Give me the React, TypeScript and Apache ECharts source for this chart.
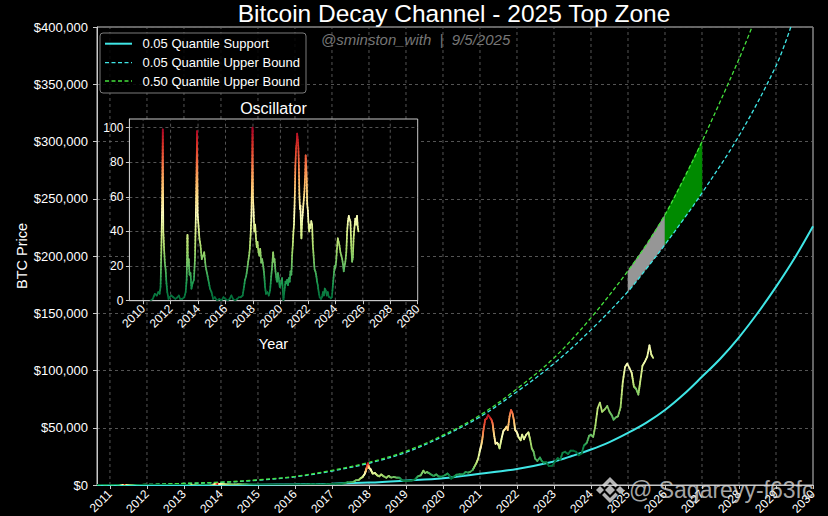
import React, { useEffect, useRef } from "react";
import * as echarts from "echarts";

// ---------- data ----------
const dates = [
  2010.55, 2010.7, 2010.85, 2011.0, 2011.1, 2011.2, 2011.27, 2011.33, 2011.38, 2011.43,
  2011.47, 2011.52, 2011.58, 2011.64, 2011.7, 2011.76, 2011.85, 2011.93, 2012.05, 2012.2,
  2012.35, 2012.5, 2012.6, 2012.7, 2012.85, 2013.0, 2013.1, 2013.17, 2013.23, 2013.27,
  2013.32, 2013.38, 2013.45, 2013.52, 2013.6, 2013.7, 2013.78, 2013.84, 2013.89, 2013.93,
  2013.97, 2014.02, 2014.1, 2014.18, 2014.27, 2014.37, 2014.45, 2014.55, 2014.65, 2014.75,
  2014.87, 2014.98, 2015.1, 2015.22, 2015.4, 2015.55, 2015.7, 2015.85, 2016.0, 2016.15,
  2016.3, 2016.43, 2016.55, 2016.7, 2016.85, 2016.97, 2017.1, 2017.25, 2017.35, 2017.42,
  2017.5, 2017.58, 2017.65, 2017.72, 2017.77, 2017.83, 2017.89, 2017.93, 2017.97, 2018.0,
  2018.04, 2018.1, 2018.16, 2018.22, 2018.28, 2018.33, 2018.4, 2018.47, 2018.53, 2018.6,
  2018.67, 2018.75, 2018.82, 2018.88, 2018.95, 2019.05, 2019.15, 2019.25, 2019.33, 2019.4,
  2019.47, 2019.52, 2019.57, 2019.64, 2019.72, 2019.76, 2019.82, 2019.88, 2019.95, 2020.05,
  2020.12, 2020.18, 2020.22, 2020.27, 2020.37, 2020.45, 2020.49, 2020.55, 2020.61, 2020.68,
  2020.73, 2020.8, 2020.85, 2020.9, 2020.95, 2020.99, 2021.03, 2021.06, 2021.09, 2021.14,
  2021.18, 2021.22, 2021.27, 2021.31, 2021.34, 2021.38, 2021.42, 2021.46, 2021.5, 2021.53,
  2021.58, 2021.63, 2021.68, 2021.72, 2021.75, 2021.8, 2021.84, 2021.88, 2021.92, 2021.95,
  2022.0, 2022.04, 2022.1, 2022.14, 2022.19, 2022.25, 2022.31, 2022.36, 2022.4, 2022.45,
  2022.49, 2022.55, 2022.62, 2022.67, 2022.72, 2022.79, 2022.86, 2022.95, 2023.04, 2023.1,
  2023.17, 2023.23, 2023.3, 2023.38, 2023.45, 2023.52, 2023.6, 2023.67, 2023.75, 2023.81,
  2023.89, 2023.95, 2024.0, 2024.06, 2024.12, 2024.18, 2024.24, 2024.3, 2024.37, 2024.44,
  2024.5, 2024.56, 2024.61, 2024.67, 2024.73, 2024.8, 2024.86, 2024.92, 2024.98, 2025.04,
  2025.1, 2025.16, 2025.22, 2025.28, 2025.33, 2025.39, 2025.46, 2025.52, 2025.58, 2025.63,
  2025.68,
];

const price = [
  0.06, 0.07, 0.25, 0.3, 0.9, 0.85, 1.5, 3.5, 8, 29,
  15, 14, 13, 10, 6, 4.5, 3, 3.5, 6, 5,
  5, 7, 10, 11, 11, 13, 25, 50, 140, 100,
  120, 110, 100, 80, 100, 130, 200, 450, 900, 1100,
  700, 850, 650, 550, 450, 600, 620, 580, 480, 380,
  370, 310, 230, 250, 240, 280, 230, 380, 430, 420,
  450, 700, 650, 620, 730, 960, 1000, 1100, 1700, 2400,
  2500, 2700, 4200, 4300, 5800, 7000, 10000, 14000, 19000, 15000,
  14000, 10000, 10500, 8500, 7500, 9300, 7500, 6300, 8000, 6500,
  7000, 6500, 6400, 4500, 3500, 3700, 3800, 5000, 7800, 8500,
  12500, 10500, 11300, 10000, 8300, 8000, 9300, 7500, 7200, 8500,
  10000, 8000, 5500, 6800, 9000, 9500, 9200, 9300, 11500, 10800,
  11300, 13000, 16000, 19000, 23000, 29000, 34000, 39000, 47000, 57000,
  58000, 61000, 59000, 57000, 54000, 44000, 36000, 37000, 35000, 32000,
  40000, 47000, 49000, 51000, 48000, 60000, 65500, 62500, 56000, 48000,
  46000, 42000, 39000, 44000, 40000, 44000, 46000, 39000, 32000, 29000,
  23000, 21000, 24000, 21000, 19500, 20000, 16500, 16800, 21000, 23500,
  22000, 28000, 29000, 27000, 30000, 30000, 29000, 26000, 27500, 34500,
  37000, 43000, 44000, 42000, 52000, 67000, 72000, 64000, 66000, 69000,
  64000, 61000, 57000, 59000, 60000, 68000, 90000, 103000, 106000, 102000,
  98000, 86000, 84000, 79000, 90000, 104000, 108000, 112000, 122000, 114000,
  111000,
];

const osc = [
  0, 1, 4, 3, 5, 4, 8, 30, 55, 99,
  40, 31, 22, 18, 10, 5, 1, 2, 3, 2,
  1, 2, 3, 1, 1, 2, 5, 12, 38, 20,
  24, 15, 16, 7, 10, 12, 25, 49, 75, 98,
  50, 45, 36, 32, 24, 26, 28, 20, 16, 12,
  7, 5, 1, 2, 0, 1, 0, 2, 1, 0,
  1, 3, 1, 0, 1, 2, 2, 3, 8, 12,
  14, 18, 22.5, 26, 30, 38, 49, 70, 100, 60,
  53, 40, 44, 36, 31, 34, 28, 26, 30, 22,
  24, 20, 15, 8, 4, 5, 3, 6, 14, 20,
  28, 22.5, 24, 17, 12, 11, 16, 13, 8, 10,
  13, 5, 0, 4, 11, 10, 12, 9, 13, 11,
  17, 15, 26, 32, 40, 44, 55, 65, 78, 88,
  91, 96.5, 93, 88, 80, 62, 53, 55, 42, 36,
  46, 51, 56, 60, 63, 72, 84, 78, 69, 56,
  52, 45.6, 40, 44, 42, 46, 44, 32, 28, 22,
  18, 17, 14, 11, 9, 5, 2, 1, 2.3, 5,
  3, 7, 6, 3, 5, 2.3, 2, 1.3, 2, 8,
  15, 20, 19, 22.5, 30, 36, 34, 32, 28, 26,
  24, 21, 17, 20, 22.5, 28, 40, 46, 49, 47,
  45.6, 32, 22.5, 25, 36, 42, 47.5, 44, 49, 43,
  40,
];

const supportYears = [2010.65, 2012, 2013, 2014, 2015, 2016, 2017, 2018, 2019, 2020, 2021, 2022, 2023, 2023.5, 2024, 2024.5, 2025, 2025.5, 2026, 2026.5, 2027, 2027.5, 2028, 2028.5, 2029, 2029.5, 2030];
const supportValues = [0, 20, 60, 150, 300, 550, 1100, 2100, 3900, 6000, 9800, 14000, 20500, 25500, 31000, 37500, 45500, 54500, 65500, 79000, 94500, 110500, 129000, 150000, 173000, 198000, 226000];

const upper05Years = [2010.65, 2012, 2013, 2014, 2015, 2016, 2017, 2018, 2019, 2020, 2021, 2022, 2023, 2024, 2025, 2025.5, 2026, 2026.5, 2027, 2028, 2029, 2029.4];
const upper05Values = [40, 450, 1300, 2300, 4200, 7100, 12200, 19000, 28500, 42500, 59500, 81500, 106000, 135500, 169000, 189000, 210000, 232000, 255000, 305000, 366000, 400000];

const upper50Years = [2010.65, 2012, 2013, 2014, 2015, 2016, 2017, 2018, 2019, 2020, 2021, 2022, 2023, 2024, 2025, 2025.5, 2026, 2026.5, 2027, 2028, 2028.35];
const upper50Values = [50, 500, 1400, 2500, 4500, 7500, 12800, 19800, 29500, 43500, 61000, 84000, 111000, 146000, 187000, 210000, 236000, 267000, 300000, 372000, 400000];

const bandGrayYears = [2025, 2025.5, 2026];
const bandGreenYears = [2026, 2026.5, 2027];

const mainXTicks = [2011, 2012, 2013, 2014, 2015, 2016, 2017, 2018, 2019, 2020, 2021, 2022, 2023, 2024, 2025, 2026, 2027, 2028, 2029, 2030];
const mainXMin = 2010.65;
const mainXMax = 2030;
const mainYMin = 0;
const mainYMax = 400000;
const mainYStep = 50000;

const insetXTicks = [2010, 2012, 2014, 2016, 2018, 2020, 2022, 2024, 2026, 2028, 2030];
const insetXMin = 2009;
const insetXMax = 2030;
const insetYTicks = [0, 20, 40, 60, 80, 100];
const insetYMax = 105;

const legendLabels = ["0.05 Quantile Support", "0.05 Quantile Upper Bound", "0.50 Quantile Upper Bound"];

// ---------- styles ----------
const FONT = '"Liberation Sans", Arial, Helvetica, sans-serif';
const AXIS = "#c8c8c8";
const GRID = "#6a6a6a";
const CYAN = "#3fe6e6";
const LIME = "#44e03c";
const GRAY_BAND = "#969696";
const GREEN_BAND = "#008a00";

const cmapStops = ["#006837", "#1a9850", "#66bd63", "#a6d96a", "#d9ef8b", "#ffffbf", "#fee08b", "#fdae61", "#f46d43", "#d73027", "#a50026"];
function hexToRgb(h: string) {
  return [parseInt(h.slice(1, 3), 16), parseInt(h.slice(3, 5), 16), parseInt(h.slice(5, 7), 16)];
}
const cmapRgb = cmapStops.map(hexToRgb);
function cmap(t: number) {
  const c = Math.max(0, Math.min(1, t)) * (cmapRgb.length - 1);
  const i = Math.min(cmapRgb.length - 2, Math.floor(c));
  const f = c - i;
  const a = cmapRgb[i];
  const b = cmapRgb[i + 1];
  const r = Math.round(a[0] + (b[0] - a[0]) * f);
  const g = Math.round(a[1] + (b[1] - a[1]) * f);
  const bl = Math.round(a[2] + (b[2] - a[2]) * f);
  return `rgb(${r},${g},${bl})`;
}

function at(years: number[], values: number[], y: number) {
  return values[years.indexOf(y)];
}

function pairs(xs: number[], ys: number[]) {
  return xs.map((x, i) => [x, ys[i]]);
}

function bandRender(years: number[], fill: string) {
  return (params: any, api: any) => {
    const top = years.map((y) => api.coord([y, at(upper50Years, upper50Values, y)]));
    const bot = years
      .slice()
      .reverse()
      .map((y) => api.coord([y, at(upper05Years, upper05Values, y)]));
    return {
      type: "polygon",
      shape: { points: top.concat(bot) },
      style: { fill, stroke: fill, lineWidth: 0.5 },
    };
  };
}

// one straight segment per pair of points, split into short pieces so that the
// colour follows the oscillator value along the segment (like a colour-mapped line)
function colouredSegments(ys: number[], width: number) {
  return (params: any, api: any) => {
    const i = params.dataIndex;
    if (i === 0) return null;
    const p0 = api.coord([dates[i - 1], ys[i - 1]]);
    const p1 = api.coord([dates[i], ys[i]]);
    const o0 = osc[i - 1];
    const o1 = osc[i];
    const n = Math.max(1, Math.ceil(Math.abs(o1 - o0) / 2));
    const children: any[] = [];
    for (let k = 0; k < n; k++) {
      const f0 = k / n;
      const f1 = (k + 1) / n;
      const om = o0 + (o1 - o0) * ((f0 + f1) / 2);
      children.push({
        type: "line",
        shape: {
          x1: p0[0] + (p1[0] - p0[0]) * f0,
          y1: p0[1] + (p1[1] - p0[1]) * f0,
          x2: p0[0] + (p1[0] - p0[0]) * f1,
          y2: p0[1] + (p1[1] - p0[1]) * f1,
        },
        style: { stroke: cmap(om / 100), lineWidth: width, lineCap: "round" },
      });
    }
    return { type: "group", children };
  };
}

function vGridRender(yLo: number, yHi: number) {
  return (params: any, api: any) => {
    const x = api.value(0);
    const a = api.coord([x, yLo]);
    const b = api.coord([x, yHi]);
    return {
      type: "line",
      shape: { x1: a[0], y1: a[1], x2: b[0], y2: b[1] },
      style: { stroke: GRID, lineWidth: 0.8, lineDash: [3, 3] },
    };
  };
}

const fmtMoney = (v: number) => "$" + Math.round(v).toLocaleString("en-US");

export default function App() {
  const ref = useRef<HTMLDivElement>(null);

  useEffect(() => {
    document.body.style.margin = "0";
    document.body.style.background = "#000";
    if (!ref.current) return;
    const chart = echarts.init(ref.current, undefined, { renderer: "svg" });

    const legendY = [43.7, 62.7, 81];
    const legendStyles = [
      { stroke: CYAN, lineWidth: 2, lineDash: null as any },
      { stroke: CYAN, lineWidth: 1.3, lineDash: [4, 2.5] },
      { stroke: LIME, lineWidth: 1.3, lineDash: [4, 2.5] },
    ];

    const option: any = {
      animation: false,
      backgroundColor: "#000",
      textStyle: { fontFamily: FONT },
      grid: [
        {
          left: 97, top: 27, right: 15, bottom: 31,
          show: true, borderColor: AXIS, borderWidth: 1, backgroundColor: "transparent",
          outerBoundsMode: "none", containLabel: false,
        },
        {
          left: 129.4, top: 119, width: 288.3, height: 181.7,
          show: true, backgroundColor: "#000", borderColor: AXIS, borderWidth: 1, z: 10,
          outerBoundsMode: "none", containLabel: false,
        },
      ],
      xAxis: [
        {
          type: "value", gridIndex: 0, min: mainXMin, max: mainXMax,
          axisLine: { show: true, onZero: false, lineStyle: { color: AXIS, width: 1 } },
          axisTick: { show: true, customValues: mainXTicks, length: 4, lineStyle: { color: AXIS } },
          axisLabel: {
            customValues: mainXTicks, rotate: 45, color: "#fff", fontSize: 12, margin: 7,
            fontFamily: FONT, formatter: (v: number) => String(Math.round(v)),
          },
          splitLine: { show: false },
        },
        {
          type: "value", gridIndex: 1, min: insetXMin, max: insetXMax, z: 11,
          axisLine: { show: true, onZero: false, lineStyle: { color: AXIS, width: 1 } },
          axisTick: { show: true, customValues: insetXTicks, length: 3.5, lineStyle: { color: AXIS } },
          axisLabel: {
            customValues: insetXTicks, rotate: 45, color: "#fff", fontSize: 12, margin: 6,
            fontFamily: FONT, formatter: (v: number) => String(Math.round(v)),
          },
          splitLine: { show: false },
        },
      ],
      yAxis: [
        {
          type: "value", gridIndex: 0, min: mainYMin, max: mainYMax, interval: mainYStep,
          axisLine: { show: true, lineStyle: { color: AXIS, width: 1 } },
          axisTick: { show: true, length: 4, lineStyle: { color: AXIS } },
          axisLabel: { color: "#fff", fontSize: 13, margin: 9, fontFamily: FONT, formatter: fmtMoney },
          splitLine: { show: true, lineStyle: { color: GRID, width: 0.8, type: [3, 3] } },
        },
        {
          type: "value", gridIndex: 1, min: 0, max: insetYMax, interval: 20, z: 11,
          axisLine: { show: true, lineStyle: { color: AXIS, width: 1 } },
          axisTick: { show: true, customValues: insetYTicks, length: 3.5, lineStyle: { color: AXIS } },
          axisLabel: {
            customValues: insetYTicks, color: "#fff", fontSize: 12, margin: 6, fontFamily: FONT,
            formatter: (v: number) => String(Math.round(v)),
          },
          splitLine: { show: true, lineStyle: { color: GRID, width: 0.8, type: [3, 3] } },
        },
      ],
      series: [
        {
          type: "custom", name: "main-x-grid", xAxisIndex: 0, yAxisIndex: 0, z: 1, silent: true,
          renderItem: vGridRender(mainYMin, mainYMax),
          data: mainXTicks.filter((t) => t < mainXMax).map((t) => [t, 0]),
        },
        {
          type: "custom", name: "zone-2025", xAxisIndex: 0, yAxisIndex: 0, z: 2, silent: true,
          renderItem: bandRender(bandGrayYears, GRAY_BAND),
          data: [[bandGrayYears[0], 0]],
        },
        {
          type: "custom", name: "zone-2026", xAxisIndex: 0, yAxisIndex: 0, z: 2, silent: true,
          renderItem: bandRender(bandGreenYears, GREEN_BAND),
          data: [[bandGreenYears[0], 0]],
        },
        {
          type: "line", name: legendLabels[0], xAxisIndex: 0, yAxisIndex: 0, z: 3,
          data: pairs(supportYears, supportValues), showSymbol: false, smooth: 0.35,
          lineStyle: { color: CYAN, width: 2 }, silent: true,
        },
        {
          type: "line", name: legendLabels[1], xAxisIndex: 0, yAxisIndex: 0, z: 3,
          data: pairs(upper05Years, upper05Values), showSymbol: false, smooth: 0.35,
          lineStyle: { color: CYAN, width: 1.3, type: [4, 2.5] }, silent: true,
        },
        {
          type: "line", name: legendLabels[2], xAxisIndex: 0, yAxisIndex: 0, z: 3,
          data: pairs(upper50Years, upper50Values), showSymbol: false, smooth: 0.35,
          lineStyle: { color: LIME, width: 1.3, type: [4, 2.5] }, silent: true,
        },
        {
          type: "custom", name: "BTC Price", xAxisIndex: 0, yAxisIndex: 0, z: 4, clip: true, silent: true,
          renderItem: colouredSegments(price, 1.8),
          data: dates.map((d, i) => [d, price[i], osc[i]]),
        },
        {
          type: "custom", name: "inset-x-grid", xAxisIndex: 1, yAxisIndex: 1, z: 11, silent: true,
          renderItem: vGridRender(0, insetYMax),
          data: insetXTicks.filter((t) => t < insetXMax).map((t) => [t, 0]),
        },
        {
          type: "custom", name: "Oscillator", xAxisIndex: 1, yAxisIndex: 1, z: 12, clip: true, silent: true,
          renderItem: colouredSegments(osc, 1.7),
          data: dates.map((d, i) => [d, osc[i]]),
        },
      ],
      graphic: [
        {
          type: "text", x: 454, y: 13, z: 50,
          style: {
            text: "Bitcoin Decay Channel - 2025 Top Zone", fill: "#fff", fontSize: 24.5,
            fontFamily: FONT, align: "center", verticalAlign: "middle",
          },
        },
        {
          type: "text", x: 321, y: 39, z: 50,
          style: {
            text: "@sminston_with  |  9/5/2025", fill: "#767676", fontSize: 15, fontStyle: "italic",
            fontFamily: FONT, align: "left", verticalAlign: "middle",
          },
        },
        {
          type: "text", x: 22, y: 256, rotation: Math.PI / 2, z: 50,
          style: {
            text: "BTC Price", fill: "#fff", fontSize: 14.5, fontFamily: FONT,
            align: "center", verticalAlign: "middle",
          },
        },
        {
          type: "text", x: 273.5, y: 108, z: 50,
          style: {
            text: "Oscillator", fill: "#fff", fontSize: 16, fontFamily: FONT,
            align: "center", verticalAlign: "middle",
          },
        },
        {
          type: "text", x: 273.5, y: 344, z: 50,
          style: {
            text: "Year", fill: "#fff", fontSize: 14.5, fontFamily: FONT,
            align: "center", verticalAlign: "middle",
          },
        },
        // legend
        {
          type: "rect", z: 40, shape: { x: 100, y: 33, width: 206, height: 60, r: 3 },
          style: { fill: "rgba(0,0,0,0.85)", stroke: "#7a7a7a", lineWidth: 1 },
        },
        ...legendLabels.map((label, i) => ({
          type: "line", z: 41,
          shape: { x1: 105, y1: legendY[i], x2: 132, y2: legendY[i] },
          style: legendStyles[i],
        })),
        ...legendLabels.map((label, i) => ({
          type: "text", x: 142.5, y: legendY[i], z: 41,
          style: {
            text: label, fill: "#fff", fontSize: 13, fontFamily: FONT,
            align: "left", verticalAlign: "middle",
          },
        })),
        // watermark (logo + handle)
        {
          type: "group", z: 60,
          children: [
            { type: "polygon", z: 60, shape: { points: [[610, 485], [615, 490], [610, 495], [605, 490]] }, style: { fill: "rgba(225,225,225,0.8)" } },
            { type: "polygon", z: 60, shape: { points: [[600, 486], [604, 490], [600, 494], [596, 490]] }, style: { fill: "rgba(225,225,225,0.8)" } },
            { type: "polygon", z: 60, shape: { points: [[620, 486], [624, 490], [620, 494], [616, 490]] }, style: { fill: "rgba(225,225,225,0.8)" } },
            { type: "polygon", z: 60, shape: { points: [[610, 477], [618, 485], [615.5, 487.5], [610, 482], [604.5, 487.5], [602, 485]] }, style: { fill: "rgba(225,225,225,0.8)" } },
            { type: "polygon", z: 60, shape: { points: [[610, 503], [618, 495], [615.5, 492.5], [610, 498], [604.5, 492.5], [602, 495]] }, style: { fill: "rgba(225,225,225,0.8)" } },
          ],
        },
        {
          type: "text", x: 629, y: 490, z: 60,
          style: {
            text: "@ Sagareyy-f63fc", fill: "rgba(220,220,220,0.75)", fontSize: 23, fontFamily: FONT,
            align: "left", verticalAlign: "middle",
          },
        },
      ],
    };

    chart.setOption(option);
    return () => chart.dispose();
  }, []);

  return (
    <div
      ref={ref}
      style={{ position: "absolute", left: 0, top: 0, width: 828, height: 516, background: "#000" }}
    />
  );
}
